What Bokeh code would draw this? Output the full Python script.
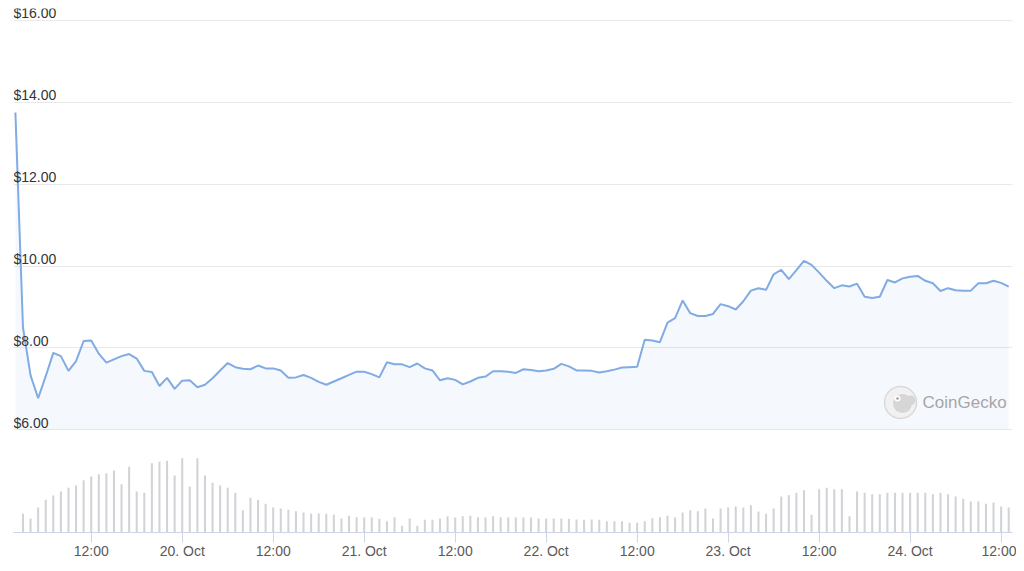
import pandas as pd
from bokeh.plotting import figure
from bokeh.models import Range1d, FixedTicker, CustomJSTickFormatter
from bokeh.core.properties import value
from bokeh.embed import file_html
from bokeh.resources import INLINE

# ---------------- data ----------------
start_time = "2023-10-19 02:00"   # hourly data points

price = [13.75, 8.50, 7.33, 6.77, 7.31, 7.88, 7.80, 7.44, 7.68, 8.17,
         8.18, 7.86, 7.64, 7.72, 7.80, 7.85, 7.74, 7.44, 7.41, 7.07,
         7.27, 7.00, 7.20, 7.21, 7.04, 7.10, 7.26, 7.45, 7.63, 7.53,
         7.49, 7.48, 7.57, 7.50, 7.50, 7.45, 7.27, 7.28, 7.34, 7.27,
         7.17, 7.10, 7.18, 7.26, 7.34, 7.42, 7.42, 7.36, 7.28, 7.65,
         7.60, 7.60, 7.53, 7.62, 7.50, 7.45, 7.21, 7.26, 7.22, 7.11,
         7.18, 7.27, 7.30, 7.43, 7.43, 7.42, 7.39, 7.48, 7.46, 7.43,
         7.45, 7.49, 7.61, 7.55, 7.45, 7.45, 7.44, 7.40, 7.43, 7.47,
         7.52, 7.53, 7.54, 8.20, 8.18, 8.14, 8.62, 8.73, 9.16, 8.85,
         8.78, 8.78, 8.83, 9.07, 9.02, 8.94, 9.14, 9.40, 9.46, 9.42,
         9.80, 9.91, 9.68, 9.90, 10.13, 10.03, 9.84, 9.64, 9.46, 9.53,
         9.50, 9.57, 9.25, 9.22, 9.25, 9.66, 9.60, 9.70, 9.74, 9.76,
         9.64, 9.58, 9.39, 9.46, 9.41, 9.40, 9.40, 9.58, 9.58, 9.64,
         9.59, 9.50]

volume = [0.00, 1.87, 1.40, 2.50, 3.27, 3.70, 4.10, 4.47, 4.70, 5.23,
          5.60, 5.83, 5.93, 6.20, 4.83, 6.57, 4.10, 3.97, 6.93, 7.07,
          7.17, 5.70, 7.43, 4.60, 7.43, 5.70, 4.97, 4.70, 4.47, 3.97,
          2.23, 3.47, 3.27, 2.87, 2.50, 2.40, 2.27, 2.13, 2.00, 1.90,
          1.90, 1.87, 1.77, 1.40, 1.67, 1.53, 1.50, 1.50, 1.37, 1.13,
          1.53, 0.67, 1.40, 0.67, 1.27, 1.27, 1.40, 1.63, 1.50, 1.63,
          1.67, 1.53, 1.50, 1.63, 1.53, 1.50, 1.50, 1.50, 1.50, 1.40,
          1.40, 1.40, 1.40, 1.37, 1.30, 1.27, 1.30, 1.27, 1.13, 1.13,
          1.13, 0.97, 0.97, 1.13, 1.43, 1.53, 1.67, 1.50, 2.00, 2.23,
          2.13, 2.40, 1.40, 2.40, 2.50, 2.60, 2.50, 2.73, 2.10, 1.87,
          2.40, 3.60, 3.73, 3.97, 4.23, 1.77, 4.33, 4.47, 4.33, 4.33,
          1.63, 4.10, 3.97, 3.83, 3.83, 3.97, 3.97, 3.97, 3.97, 3.97,
          3.97, 3.83, 3.97, 3.83, 3.60, 3.37, 3.10, 3.10, 2.87, 3.00,
          2.60, 2.50]

y_ticks = [6, 8, 10, 12, 14, 16]
y_tick_labels = ["$6.00", "$8.00", "$10.00", "$12.00", "$14.00", "$16.00"]

x_tick_times = ["2023-10-19 12:00", "2023-10-20 00:00", "2023-10-20 12:00",
                "2023-10-21 00:00", "2023-10-21 12:00", "2023-10-22 00:00",
                "2023-10-22 12:00", "2023-10-23 00:00", "2023-10-23 12:00",
                "2023-10-24 00:00", "2023-10-24 12:00"]
x_tick_labels = ["12:00", "20. Oct", "12:00", "21. Oct", "12:00", "22. Oct",
                 "12:00", "23. Oct", "12:00", "24. Oct", "12:00"]

# ---------------- layout ----------------
times = pd.date_range(start_time, periods=len(price), freq="h")
HOUR_MS = 3600000.0
t0 = times[0].value / 1e6
t1 = times[-1].value / 1e6
x_start = t0 - 0.25 * HOUR_MS
x_end = t1 + 0.5 * HOUR_MS

BL, BR, BT, BB = 13, 4, 8, 31
W, H = 1016, 563
frame_w = W - BL - BR
frame_h = H - BT - BB

y_lo, y_hi = 3.491, 16.293
vol_hi = 52.4

FONT = value("Liberation Sans")

p = figure(width=W, height=H, x_axis_type="datetime",
           x_range=Range1d(x_start, x_end), y_range=Range1d(y_lo, y_hi),
           output_backend="svg", toolbar_location=None,
           min_border_left=BL, min_border_right=BR,
           min_border_top=BT, min_border_bottom=BB)
p.extra_y_ranges = {"vol": Range1d(0, vol_hi)}
p.outline_line_color = None
p.background_fill_color = "white"
p.border_fill_color = "white"

# grid
p.xgrid.visible = False
p.ygrid.ticker = FixedTicker(ticks=y_ticks)
p.ygrid.grid_line_color = "#e9e9e9"
p.ygrid.grid_line_width = 1

# y axis hidden, labels drawn inside plot
p.yaxis.visible = False

# x axis
tick_ms = [pd.Timestamp(t).value // 10**6 for t in x_tick_times]
p.xaxis.ticker = FixedTicker(ticks=tick_ms)
p.xaxis.formatter = CustomJSTickFormatter(
    args=dict(tvals=tick_ms, tlabels=x_tick_labels),
    code="const i = tvals.indexOf(tick); return i >= 0 ? tlabels[i] : '';")
p.xaxis.axis_line_color = "#ccd6eb"
p.xaxis.major_tick_line_color = "#ccd6eb"
p.xaxis.major_tick_out = 10
p.xaxis.major_tick_in = 0
p.xaxis.minor_tick_line_color = None
p.xaxis.major_label_standoff = 0
p.xaxis.major_label_text_font = "Liberation Sans"
p.xaxis.major_label_text_font_size = "14px"
p.xaxis.major_label_text_color = "#5a5a5a"

# volume bars
p.vbar(x=times, top=volume, bottom=0, width=0.27 * HOUR_MS,
       y_range_name="vol", fill_color="#d2d3d7", line_color=None)

# area + line
p.varea(x=times, y1=6, y2=price, fill_color="#7cb5ec", fill_alpha=0.08)
p.line(times, price, line_color="#80abe3", line_width=2)

# y tick labels (sit just above their grid lines)
p.text(x=[x_start] * len(y_ticks), y=y_ticks, text=y_tick_labels,
       text_font=FONT, text_font_size="14px", text_color="#333333",
       text_align="left", text_baseline="middle", y_offset=-7)

# watermark (placed by page pixel position)
px_ms = (x_end - x_start) / frame_w
px_y = (y_hi - y_lo) / frame_h


def at(px, py):
    return x_start + (px - BL) * px_ms, y_hi - (py - BT) * px_y


cx, cy = at(900, 402)
p.scatter([cx], [cy], size=32, marker="circle", fill_color="#f1f1f1",
          line_color="#d9d9d9", line_width=1.5)
hx, hy = at(902, 403)
p.scatter([hx], [hy], size=19, marker="circle", fill_color="#d6d6d6",
          line_color=None)
mx, my = at(910, 400)
p.scatter([mx], [my], size=10, marker="circle", fill_color="#d6d6d6",
          line_color=None)
ex, ey = at(897, 398)
p.scatter([ex], [ey], size=6, marker="circle", fill_color="white",
          line_color=None)
p.scatter([ex], [ey], size=2.5, marker="circle", fill_color="#9a9a9a",
          line_color=None)
tx, ty = at(922, 402)
p.text(x=[tx], y=[ty], text=["CoinGecko"], text_font=FONT,
       text_font_size="17px", text_color="#a6a6a6", text_align="left",
       text_baseline="middle")

open("out.html", "w").write(file_html(p, INLINE))
